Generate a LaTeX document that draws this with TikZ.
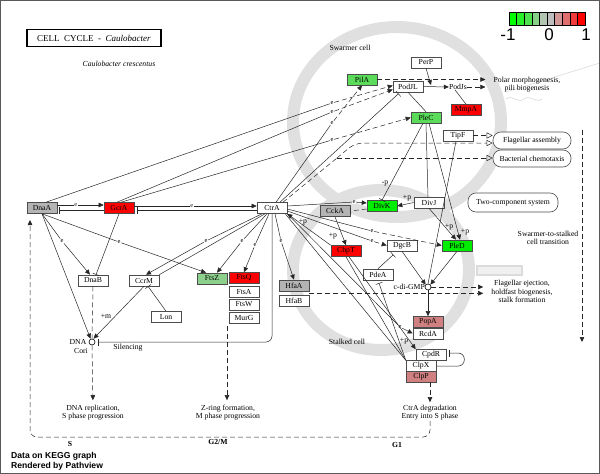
\documentclass[tikz,border=0pt]{standalone}
\usepackage{fontspec}
\setmainfont{Liberation Serif}
\newfontfamily\lsans{Liberation Sans}
\usetikzlibrary{arrows.meta}

\newcommand\gfont{\fontsize{7.7}{8.2}\selectfont}
\newcommand\efont{\fontsize{6.5}{7}\selectfont}

\definecolor{upred}{RGB}{255,0,0}
\definecolor{dngreen}{RGB}{0,238,0}
\definecolor{midgreen}{RGB}{90,220,90}
\definecolor{ltgreen}{RGB}{140,208,140}
\definecolor{nochange}{RGB}{180,180,180}
\definecolor{ltred}{RGB}{208,128,128}
\definecolor{lg0}{RGB}{0,255,0}
\definecolor{lg1}{RGB}{40,240,40}
\definecolor{lg2}{RGB}{80,225,80}
\definecolor{lg3}{RGB}{135,208,135}
\definecolor{lg4}{RGB}{178,196,178}
\definecolor{lg5}{RGB}{190,190,190}
\definecolor{lg6}{RGB}{210,150,150}
\definecolor{lg7}{RGB}{225,110,110}
\definecolor{lg8}{RGB}{240,60,60}
\definecolor{lg9}{RGB}{255,0,0}

\tikzset{
  gene/.style={draw=black!70, line width=0.6pt, fill=white, minimum width=30pt,
    minimum height=11pt, inner sep=0pt, font=\gfont},
  mapbox/.style={draw=black!70, line width=0.6pt, rounded corners=8pt, fill=white,
    minimum height=17pt, inner sep=0pt, font=\gfont},
  txt/.style={inner sep=0pt, align=center, font=\gfont},
  elbl/.style={fill=white, inner sep=0.6pt, font=\efont},
  lnk/.style={line width=0.5pt, black!85},
  arr/.style={lnk, -{Triangle[length=5pt,width=4.5pt]}},
  inh/.style={lnk, -{Bar[width=7pt]}},
  oarr/.style={lnk, -{Triangle[open,length=6pt,width=6pt]}},
  dsh/.style={dash pattern=on 5pt off 3pt},
  ring/.style={black!12, line width=12pt},
}

\begin{document}
\begin{tikzpicture}[x=1pt,y=-1pt]
\useasboundingbox (0,0) rectangle (600,474);

% cell outlines
\draw[ring] (397,122) ellipse [x radius=104pt, y radius=95pt];
\draw[ring] (381,270) ellipse [x radius=88pt, y radius=80pt];
\draw[black!14, line width=2pt, fill=black!6] (477,266) rectangle (522,275);
\draw[black!15, line width=0.6pt] (506,92) -- (600,63);
\draw[black!15, line width=0.6pt] (506,99) .. controls (512,94) and (518,104) .. (524,99)
  .. controls (530,94) and (536,104) .. (542,99);

% legend
\foreach \c [count=\i from 0] in {lg0,lg1,lg2,lg3,lg4,lg5,lg6,lg7,lg8,lg9}
  \draw[black, line width=0.4pt, fill=\c] ({509+7.6*\i},12) rectangle ++(7.6,13);
\node[inner sep=0pt, font=\lsans\fontsize{17}{17}\selectfont] (lgmin) at (508,35) {-1};
\node[inner sep=0pt, font=\lsans\fontsize{17}{17}\selectfont] (lgmid) at (549,35) {0};
\node[inner sep=0pt, font=\lsans\fontsize{17}{17}\selectfont] (lgmax) at (586,35) {1};

% title
\node[draw, line width=1.2pt, minimum width=134pt, minimum height=17pt, inner sep=0pt,
  font=\fontsize{9}{10}\selectfont] (title) at (94,38) {CELL\ \ CYCLE\ \ -\ \ \textit{Caulobacter}};
\node[txt] (org) at (119,64) {\textit{Caulobacter crescentus}};
\node[txt] (swarmer) at (350,48) {Swarmer cell};
\node[txt] (stalked) at (347,342) {Stalked cell};

% genes
\node[gene, fill=nochange] (DnaA) at (42,208) {DnaA};
\node[gene, fill=upred] (GcrA) at (119,208) {GcrA};
\node[gene] (CtrA) at (272,208) {CtrA};
\node[gene] (DnaB) at (93,280.5) {DnaB};
\node[gene] (CcrM) at (144,280.5) {CcrM};
\node[gene, fill=ltgreen] (FtsZ) at (212,278.5) {FtsZ};
\node[gene, fill=upred] (FtsQ) at (244,278) {FtsQ};
\node[gene] (FtsA) at (244,291.5) {FtsA};
\node[gene] (FtsW) at (244,304.5) {FtsW};
\node[gene] (MurG) at (244,318) {MurG};
\node[gene] (Lon) at (166,317) {Lon};
\node[gene, fill=nochange] (HfaA) at (294,285.5) {HfaA};
\node[gene] (HfaB) at (294,300.5) {HfaB};
\node[gene, fill=nochange] (CckA) at (335,211) {CckA};
\node[gene, fill=dngreen] (DivK) at (382,206) {DivK};
\node[gene] (DivJ) at (429,202.5) {DivJ};
\node[gene, fill=upred] (ChpT) at (346,251) {ChpT};
\node[gene] (DgcB) at (402,245.5) {DgcB};
\node[gene, fill=dngreen] (PleD) at (457,245.5) {PleD};
\node[gene] (PdeA) at (378,274.5) {PdeA};
\node[gene, fill=ltred] (PopA) at (428,322) {PopA};
\node[gene] (RcdA) at (428,333.5) {RcdA};
\node[gene] (CpdR) at (431,355) {CpdR};
\node[gene] (ClpX) at (421,366) {ClpX};
\node[gene, fill=ltred] (ClpP) at (421,376.5) {ClpP};
\node[gene, fill=midgreen] (PilA) at (362,79.5) {PilA};
\node[gene] (PodJL) at (408,86.5) {PodJL};
\node[gene] (PerP) at (426,62.5) {PerP};
\node[gene, fill=upred] (MmpA) at (466,110) {MmpA};
\node[gene, fill=midgreen] (PleC) at (426,117.5) {PleC};
\node[gene] (TipF) at (458,135.5) {TipF};

% maps and outcomes
\node[mapbox, minimum width=78pt] (flag) at (532,140.5) {Flagellar assembly};
\node[mapbox, minimum width=78pt] (chem) at (532,158.5) {Bacterial chemotaxis};
\node[mapbox, minimum width=90pt, minimum height=19pt] (tcs) at (513,202.5) {Two-component system};
\node[txt] (polar) at (527,84.5) {Polar morphogenesis,\\pili biogenesis};
\node[txt] (podjs) at (458,87) {PodJs};
\node[txt] (s2s) at (548,238) {Swarmer-to-stalked\\cell transition};
\node[txt] (flagej) at (522,291.5) {Flagellar ejection,\\holdfast biogenesis,\\stalk formation};
\node[txt] (dnarep) at (93,413) {DNA replication,\\S phase progression};
\node[txt] (zring) at (228,413) {Z-ring formation,\\M phase progression};
\node[txt] (ctrdeg) at (430,413) {CtrA degradation\\Entry into S phase};
\node[txt, font=\gfont\bfseries] (phS) at (70,444) {S};
\node[txt, font=\gfont\bfseries] (phG2M) at (218,442) {G2/M};
\node[txt, font=\gfont\bfseries] (phG1) at (397,445) {G1};

% compounds
\node[draw, circle, line width=0.6pt, fill=white, minimum size=6pt, inner sep=0pt] (cdg) at (428,287) {};
\node[txt, anchor=east] (cdgl) at (425,287) {c-di-GMP};
\node[draw, circle, line width=0.6pt, fill=white, minimum size=6pt, inner sep=0pt] (cori) at (92,342) {};
\node[txt] (dnal) at (78,342) {DNA};
\node[txt] (coril) at (81,351) {Cori};
\node[txt] (silence) at (128,348) {Silencing};

% DnaA, GcrA, CtrA loop
\draw[arr] ([yshift=3pt]DnaA.east) -- node[elbl, pos=0.4] (eGcrA) {e} ([yshift=3pt]GcrA.west);
\draw[inh, shorten >=2pt] ([yshift=-2pt]GcrA.west) -- ([yshift=-2pt]DnaA.east);
\draw[arr] ([yshift=2pt]GcrA.east) -- node[elbl, pos=0.47] (eCtrA) {e} ([yshift=2pt]CtrA.west);
\draw[inh, shorten >=3pt] ([yshift=-2pt]CtrA.west) -- ([yshift=-2pt]GcrA.east);

% DnaA targets
\node[elbl] (eDnaB) at (62,241) {e};
\draw[lnk] (DnaA.south) -- (eDnaB);
\draw[arr] (eDnaB) -- ([xshift=-3pt]DnaB.north);
\node[elbl] (eFtsZa) at (119,242) {e};
\draw[lnk] (DnaA.south) -- (eFtsZa);
\draw[arr] (eFtsZa) -- ([xshift=-6pt]FtsZ.north);
\draw[arr] (DnaA.south) -- ([xshift=-1.5pt]cori.north);
\draw[inh] (GcrA.south) -- ([xshift=3pt]DnaB.north);

% CtrA targets below
\node[elbl] (eCcrM) at (206,241) {e};
\draw[lnk] ([xshift=-10pt]CtrA.south) -- (eCcrM);
\draw[arr] (eCcrM) -- ([xshift=2pt]CcrM.north);
\draw[lnk] ([xshift=-7pt]CtrA.south) -- (CcrM.north east);
\node[elbl] (eFtsZb) at (242,241) {e};
\draw[lnk] ([xshift=-5pt]CtrA.south) -- (eFtsZb);
\draw[arr] (eFtsZb) -- ([xshift=5pt]FtsZ.north);
\node[elbl] (eFtsQ) at (255,245) {e};
\draw[lnk] ([xshift=-3pt]CtrA.south) -- (eFtsQ);
\draw[arr] (eFtsQ) -- (FtsQ.north);
\node[elbl] (eHfaA) at (281,241) {e};
\draw[lnk] ([xshift=3pt]CtrA.south) -- (eHfaA);
\draw[arr] (eHfaA) -- (HfaA.north);
\draw[inh, rounded corners=6pt, shorten >=3pt] (CtrA.south) |- (cori.east);

% replication origin
\draw[arr] (CcrM.south) -- ([xshift=1.5pt]cori.north);
\node[txt] (pm) at (106,316) {+m};
\draw[inh] (Lon.north) -- ([xshift=4pt]CcrM.south);
\draw[lnk, dsh] (DnaB.south) -- (cori.north);
\draw[arr, dsh, shorten >=5pt] (cori.south) -- (dnarep.north);
\coordinate (zr) at (227,326);
\draw[arr, dsh, shorten >=5pt] (zr) -- (zr |- zring.north);

% cell cycle
\coordinate (cyc) at (30,220);
\draw[arr, dsh, rounded corners=7pt] (ctrdeg.south) |- (30,437) -- (cyc);
\draw[arr, dsh, shorten >=3pt] (ClpP.south -| ctrdeg.north) -- (ctrdeg.north);
\coordinate (stt) at (582,130);
\coordinate (stb) at (582,342);
\draw[arr, dsh] (stt) -- (stb);

% upper pole
\node[elbl] (ePodA) at (332,103) {e};
\draw[lnk] ([xshift=4pt]DnaA.north) -- (ePodA);
\draw[arr, dsh] (ePodA) -- ([yshift=1pt]PodJL.west);
\node[elbl] (ePodB) at (332,112) {e};
\draw[lnk] ([xshift=-2pt]GcrA.north) -- (ePodB);
\draw[arr, dsh] (ePodB) -- ([yshift=-3pt]PodJL.west);
\node[elbl] (ePleC) at (332,140) {e};
\draw[lnk] ([xshift=2pt]GcrA.north) -- (ePleC);
\draw[arr, dsh] (ePleC) -- (PleC.west);
\node[elbl] (ePilA) at (332,123) {e};
\draw[lnk] ([xshift=4pt]CtrA.north) -- (ePilA);
\draw[arr, dsh] (ePilA) -- (PilA.south);
\draw[inh, shorten >=2pt] ([xshift=8pt]CtrA.north) -- ([xshift=-8pt]PodJL.south);
\coordinate (fb) at (337,158);
\draw[lnk, dsh] ([xshift=11pt]CtrA.north) -- (fb);
\draw[oarr, dsh, rounded corners=8pt] (fb) -- (355,143) -- ([yshift=-2.5pt]flag.west);
\draw[oarr, dsh] (fb) -- (fb -| chem.west);
\draw[oarr, dsh] (TipF.east) -- (TipF.east -| flag.west);

\draw[arr, dsh, shorten >=8pt] (PilA.east) -- (PilA.east -| polar.west);
\draw[arr] (PodJL.east) -- (podjs.west);
\draw[arr, dsh, shorten >=8pt] (podjs.east) -- (podjs.east -| polar.west);
\coordinate (pp) at (431,85);
\draw[arr] (PerP.south) -- (pp);
\draw[lnk] ([xshift=-3pt]podjs.south) -- (MmpA.north);
\draw[lnk] (PodJL.south) -- (PleC.north);

% two-component relay
\draw[inh] ([xshift=-3pt]PleC.south) -- (DivK.north);
\node[txt] (mp) at (385,184) {-p};
\draw[lnk] (PleC.south) -- ([xshift=-1pt]DivJ.north);
\draw[arr] ([xshift=3pt]PleC.south) -- ([xshift=3pt]PleD.north);
\node[txt] (ppa) at (465,232) {+p};
\draw[arr] (DivJ.south) -- ([xshift=-1pt]PleD.north);
\node[txt] (ppb) at (449,227) {+p};
\draw[arr] (DivJ.west) -- (DivK.east);
\node[txt] (ppc) at (407,198) {+p};
\node[elbl] (eDivK) at (354,202) {e};
\draw[lnk] ([yshift=2pt]CtrA.east) -- (eDivK);
\draw[arr] (eDivK) -- ([yshift=3pt]DivK.west);
\draw[inh, dsh] ([yshift=-3pt]DivK.west) -- (CckA.east);
\draw[arr] (CckA.south) -- (ChpT.north);
\node[txt] (ppd) at (333,236) {+p};
\draw[arr] (ChpT.north west) -- (CtrA.south east);
\node[txt] (ppe) at (303,222) {+p};

% c-di-GMP
\draw[lnk] ([xshift=-2pt]TipF.south) -- (cdg.north);
\node[elbl] (ePleD) at (372,231) {e};
\draw[lnk] ([yshift=-1pt]CtrA.east) -- (ePleD);
\draw[arr, dsh] (ePleD) -- (PleD.west);
\node[elbl] (eDgcB) at (372,241) {e};
\draw[lnk] ([yshift=-3pt]CtrA.east) -- (eDgcB);
\draw[arr, dsh] (eDgcB) -- (DgcB.west);
\draw[arr] (DgcB.south) -- (cdg.north west);
\draw[arr] (PleD.south) -- (cdg.north east);
\draw[inh, shorten >=5pt] (PdeA.north) -- ([xshift=-5pt]DgcB.south);
\draw[arr] (cdg.south) -- (PopA.north);
\draw[arr, dsh, shorten >=8pt] (cdg.east) -- (cdg.east -| flagej.west);
\coordinate (hf) at ([yshift=-2pt]HfaA.south east);
\draw[arr, dsh, shorten >=8pt] (hf) -- (hf -| flagej.west);

% proteolysis
\node[elbl] (eRcdA) at (400,327) {e};
\draw[lnk] (CtrA.south east) -- (eRcdA);
\draw[arr] (eRcdA) -- (RcdA.west);
\draw[lnk] ([xshift=-2pt]CtrA.south east) -- (ClpX.north west);
\draw[lnk] (ChpT.south) -- (ClpX.north west);
\draw[arr] ([xshift=3pt]ChpT.south) -- (CpdR.north west);
\node[txt] (ppf) at (404,341) {+p};
\draw[inh, shorten >=3pt] (ClpX.north west) -- (PdeA.south);
\draw[inh, rounded corners=6pt, shorten >=3pt] (ClpX.east) -- ++(28,0) |- ([yshift=2pt]CpdR.east);

% credits and frame
\node[inner sep=0pt, anchor=north west, align=left, font=\lsans\bfseries\fontsize{8.6}{10}\selectfont]
  (pv) at (11,452) {Data on KEGG graph\\Rendered by Pathview};
\draw[black!65, line width=1.2pt] (0.6,0.6) rectangle (599.4,473.4);

\end{tikzpicture}
\end{document}
